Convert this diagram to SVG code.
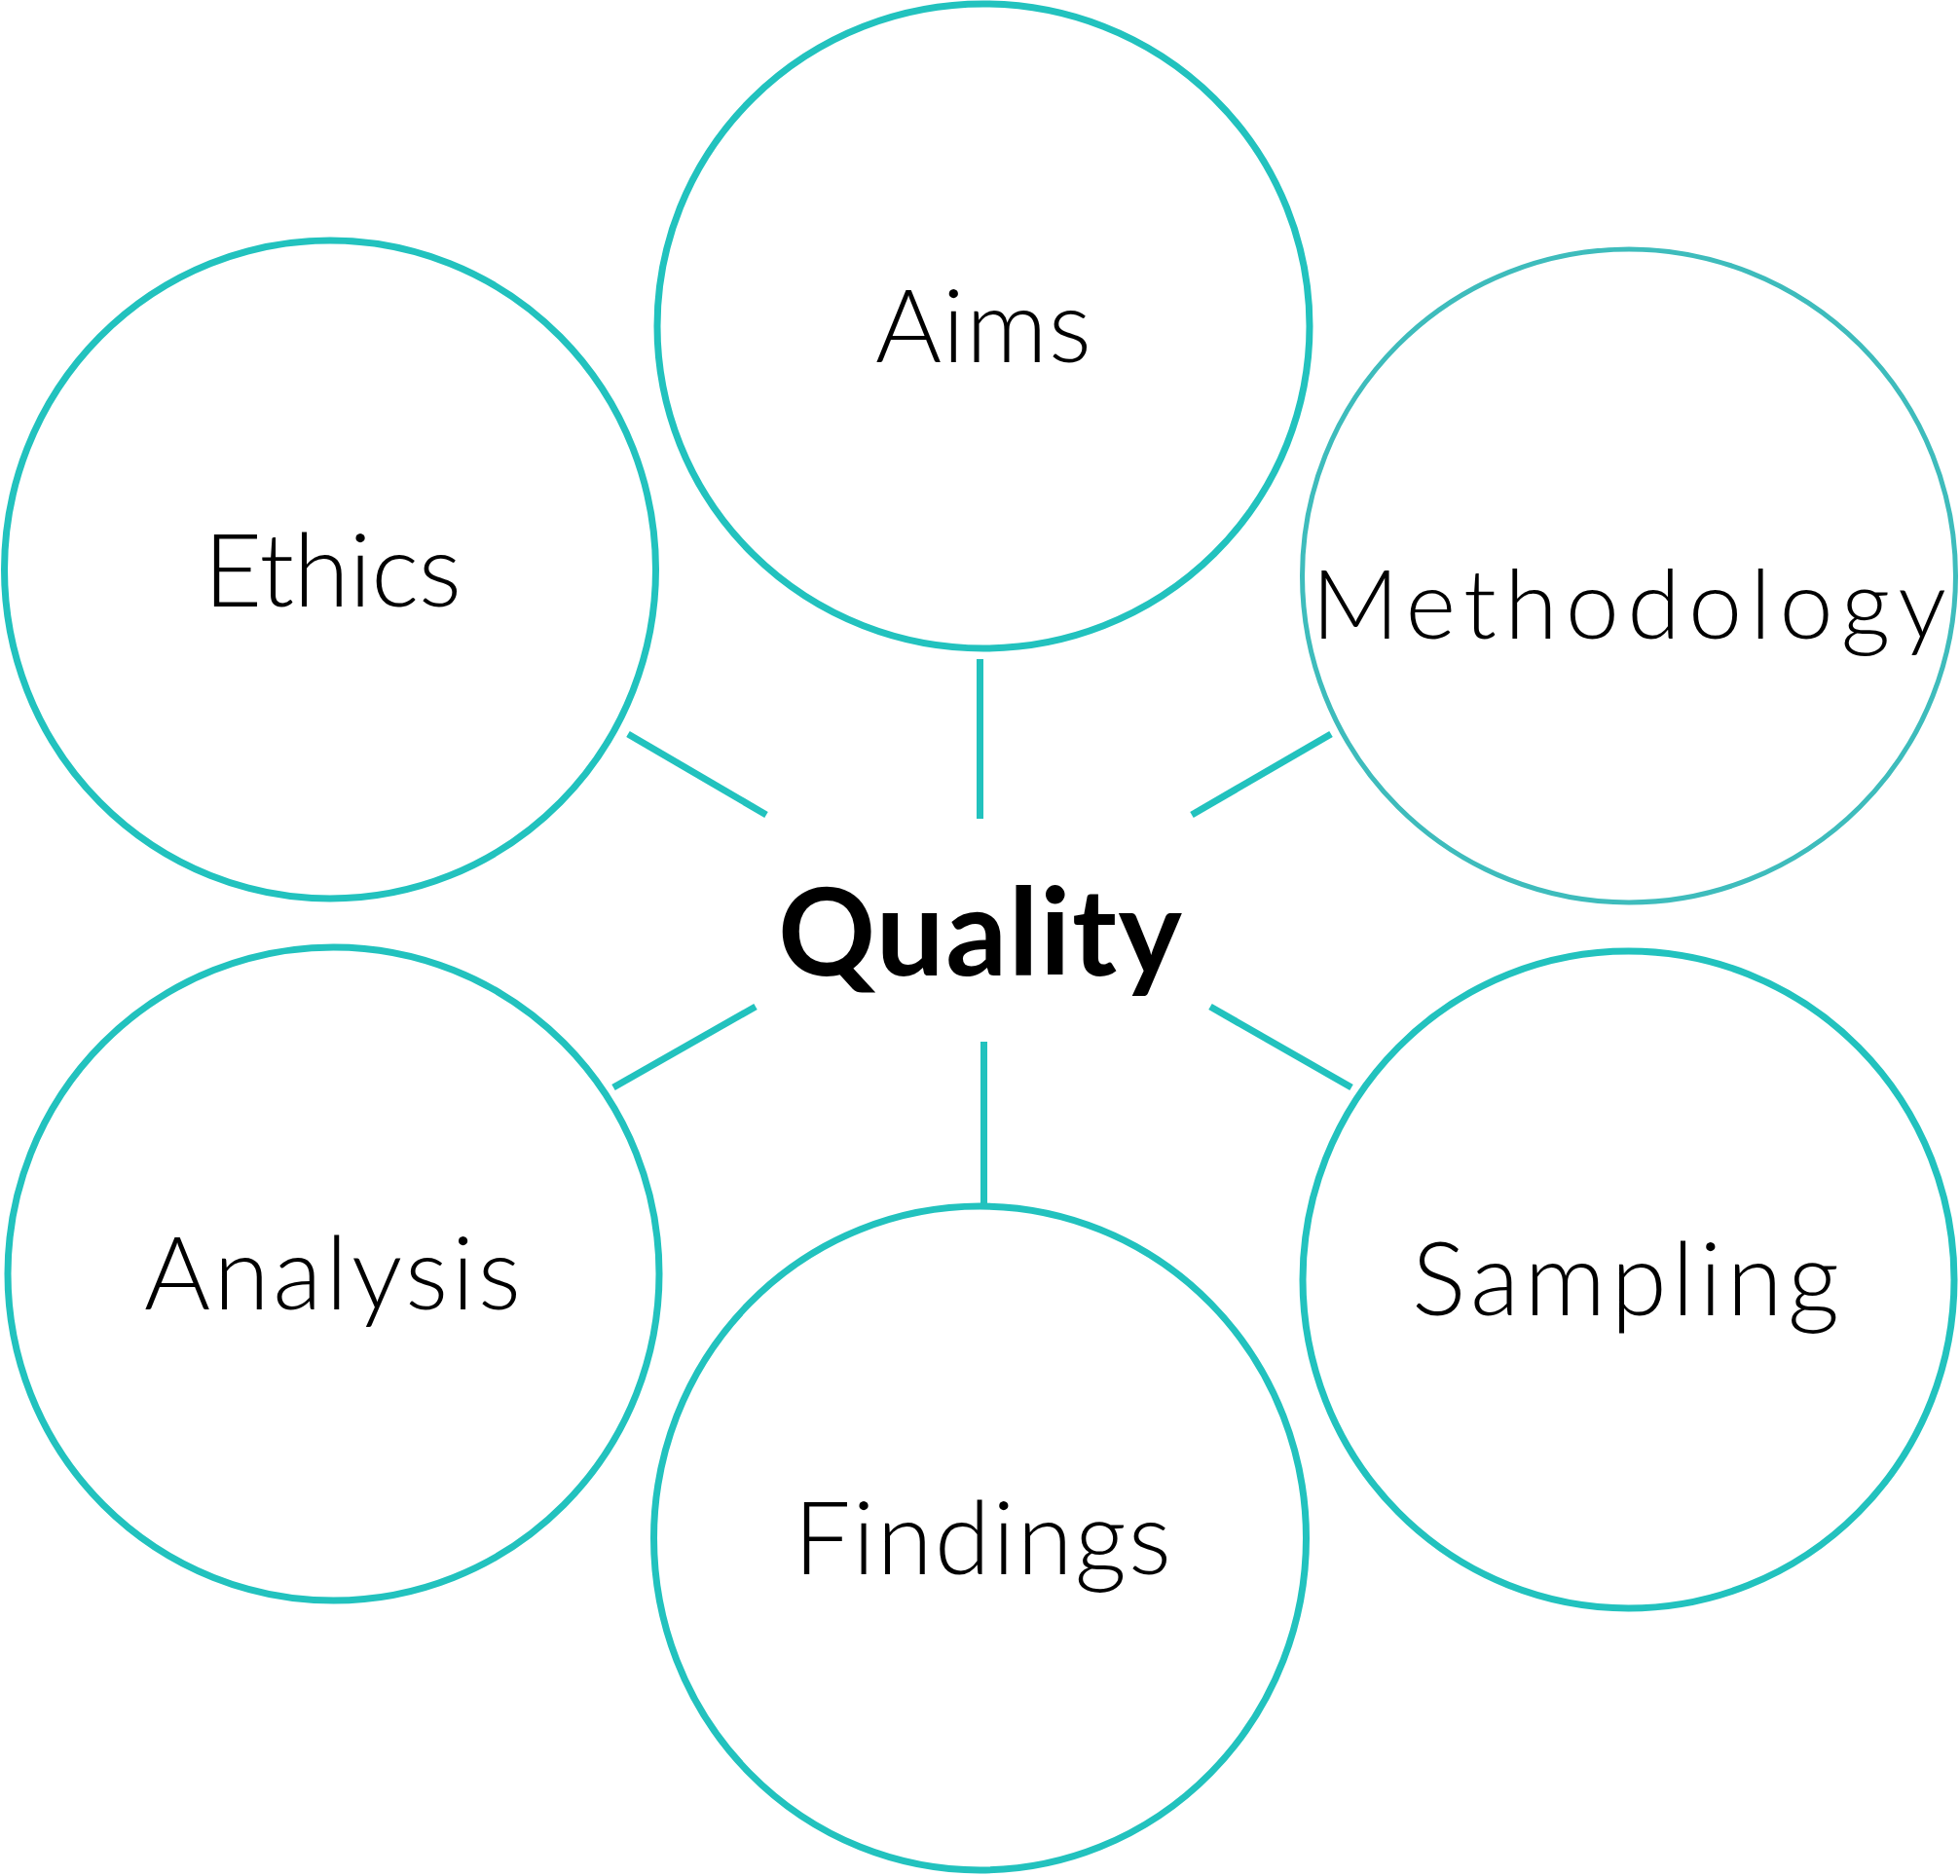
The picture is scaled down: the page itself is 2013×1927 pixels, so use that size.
<svg xmlns="http://www.w3.org/2000/svg" width="2013" height="1927" viewBox="0 0 2013 1927">
<style>
.node{fill:none;stroke:#22c2be;stroke-width:7}
.thin{stroke:#3ebcbc;stroke-width:5}
.conn line{stroke:#22c2be;stroke-width:7}
.lbl{font-family:Lato,"Liberation Sans",sans-serif;font-weight:300;font-size:104px;fill:#000}
.center{font-family:Lato,"Liberation Sans",sans-serif;font-weight:700;font-size:124px;fill:#000}
</style>
<rect width="2013" height="1927" fill="#fff"/>
<g id="connectors" class="conn">
<line x1="1006.5" y1="677" x2="1006.5" y2="841"/>
<line x1="645" y1="754" x2="787" y2="837"/>
<line x1="1224" y1="837" x2="1367" y2="754"/>
<line x1="630" y1="1117" x2="776" y2="1034"/>
<line x1="1243" y1="1034" x2="1388" y2="1117"/>
<line x1="1010.5" y1="1070" x2="1010.5" y2="1238"/>
</g>
<g id="aims">
<ellipse class="node" cx="1010" cy="335" rx="335" ry="331"/>
<text class="lbl" x="899" y="372" textLength="222">Aims</text>
</g>
<g id="ethics">
<ellipse class="node" cx="339" cy="585" rx="334.5" ry="338"/>
<text class="lbl" x="209" y="622.5" textLength="265">Ethics</text>
</g>
<g id="methodology">
<ellipse class="node thin" cx="1673" cy="591.5" rx="335.5" ry="335.5"/>
<text class="lbl" x="1347" y="656" textLength="652" style="font-size:99px">Methodology</text>
</g>
<g id="analysis">
<ellipse class="node" cx="342.5" cy="1308.5" rx="334.5" ry="335.5"/>
<text class="lbl" x="148" y="1345" textLength="387">Analysis</text>
</g>
<g id="sampling">
<ellipse class="node" cx="1672.5" cy="1314.5" rx="334.5" ry="337.5"/>
<text class="lbl" x="1450" y="1351" textLength="439">Sampling</text>
</g>
<g id="findings">
<ellipse class="node" cx="1006.5" cy="1580" rx="335" ry="341"/>
<text class="lbl" x="815" y="1617" textLength="388">Findings</text>
</g>
<g id="quality">
<text class="center" x="799" y="1002" textLength="415">Quality</text>
</g>
</svg>
